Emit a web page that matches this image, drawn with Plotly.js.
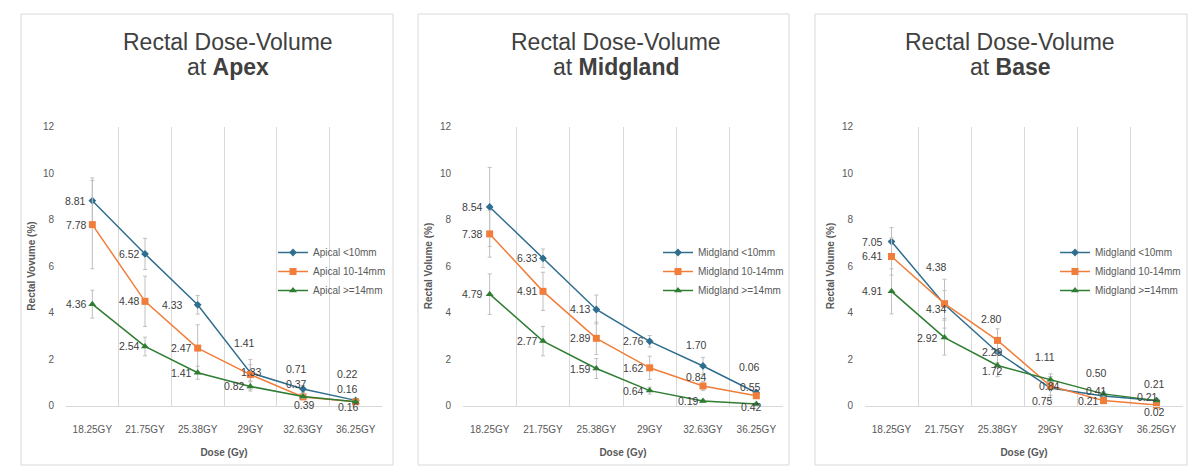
<!DOCTYPE html>
<html>
<head>
<meta charset="utf-8">
<script src="https://cdn.plot.ly/plotly-3.0.1.min.js"></script>
<style>
html,body{margin:0;padding:0;background:#fff;}
#chart{width:1200px;height:476px;}
</style>
</head>
<body>
<div id="chart"></div>
<script>
// ---------- DATA ----------
const categories = ["18.25GY", "21.75GY", "25.38GY", "29GY", "32.63GY", "36.25GY"];

const apexLt10   = [8.81, 6.52, 4.33, 1.41, 0.71, 0.22];
const apex10to14 = [7.78, 4.48, 2.47, 1.33, 0.37, 0.16];
const apexGe14   = [4.36, 2.54, 1.41, 0.82, 0.39, 0.16];
const apexLt10Err   = [0.98, 0.67, 0.40, 0.35, 0.15, 0.05];
const apex10to14Err = [1.90, 1.08, 1.00, 0.65, 0.10, 0.05];
const apexGe14Err   = [0.60, 0.40, 0.28, 0.20, 0.08, 0.05];

const midLt10   = [8.54, 6.33, 4.13, 2.76, 1.70, 0.55];
const mid10to14 = [7.38, 4.91, 2.89, 1.62, 0.84, 0.42];
const midGe14   = [4.79, 2.77, 1.59, 0.64, 0.19, 0.06];
const midLt10Err   = [1.70, 0.40, 0.62, 0.25, 0.37, 0.10];
const mid10to14Err = [1.00, 0.82, 0.70, 0.50, 0.20, 0.10];
const midGe14Err   = [0.87, 0.63, 0.43, 0.15, 0.05, 0.05];

const baseLt10   = [7.05, 4.34, 2.29, 0.75, 0.41, 0.21];
const base10to14 = [6.41, 4.38, 2.80, 0.84, 0.21, 0.02];
const baseGe14   = [4.91, 2.92, 1.72, 1.11, 0.50, 0.21];
const baseLt10Err   = [0.60, 0.60, 0.45, 0.50, 0.10, 0.05];
const base10to14Err = [0.80, 1.05, 0.50, 0.40, 0.10, 0.05];
const baseGe14Err   = [0.97, 0.75, 0.48, 0.25, 0.10, 0.05];

const apexNames = ["Apical <10mm", "Apical 10-14mm", "Apical >=14mm"];
const midNames  = ["Midgland <10mm", "Midgland 10-14mm", "Midgland >=14mm"];
const baseNames = ["Midgland <10mm", "Midgland 10-14mm", "Midgland >=14mm"];

const titleLine1 = "Rectal Dose-Volume";
const titleLine2 = ["at <b>Apex</b>", "at <b>Midgland</b>", "at <b>Base</b>"];
const yTitles = ["Rectal Vovume (%)", "Rectal Volume (%)", "Rectal Volume (%)"];
const xTitle = "Dose (Gy)";

// ---------- STYLE ----------
const W = 1200, H = 476;
const colors = ["#2F6E8E", "#F07E3A", "#2E7D32"];
const symbols = ["diamond", "square", "triangle-up"];
const msizes = [6, 7, 7];
const FONT = "Liberation Sans, Arial, sans-serif";
const plotX = [[66, 382], [463, 783], [865, 1183]];
const boxes = [[21, 393], [418, 789], [815, 1187]];
const boxY = [14, 465];
const plotY = [126.5, 405.5];
const titleCenters = [228, 616, 1010];
const titleLineY = [42, 67];
const legendLeft = [273, 658, 1055];

// label offsets (px) [dx, dy(down)]
const labelOffsets = [
  [ [[-17,0],[-16,0],[-25,0],[-6,-30],[-7,-20],[-8,-26]],
    [[-16,0],[-16,0],[-16,0],[1,-3],[-7,-13],[-8,-13]],
    [[-16,0],[-16,0],[-16,0],[-16,0],[1,9],[-7,5]] ],
  [ [[-17,0],[-16,0],[-16,0],[-16,0],[-7,-21],[-6,-6]],
    [[-17,0],[-16,0],[-16,0],[-16,0],[-7,-9],[-5,11]],
    [[-17,0],[-16,0],[-16,0],[-16,0],[-15,0],[-7,-37]] ],
  [ [[-19,0],[-8,4],[-5,0],[-8,13],[-7,-5],[-9,-4]],
    [[-19,0],[-8,-37],[-6,-21],[-1,0],[-15,0],[-2,7]],
    [[-19,0],[-17,0],[-5,5],[-6,-23],[-7,-21],[-2,-17]] ]
];

const panels = [
  {series: [apexLt10, apex10to14, apexGe14], errs: [apexLt10Err, apex10to14Err, apexGe14Err], names: apexNames},
  {series: [midLt10, mid10to14, midGe14], errs: [midLt10Err, mid10to14Err, midGe14Err], names: midNames},
  {series: [baseLt10, base10to14, baseGe14], errs: [baseLt10Err, base10to14Err, baseGe14Err], names: baseNames}
];

const traces = [];
const annotations = [];
const shapes = [];
const layout = {
  width: W, height: H,
  margin: {l: 0, r: 0, t: 0, b: 0},
  paper_bgcolor: "#ffffff", plot_bgcolor: "rgba(0,0,0,0)",
  font: {family: FONT, color: "#595959", size: 10},
  showlegend: true,
  annotations: annotations,
  shapes: shapes
};

panels.forEach((p, pi) => {
  const sfx = pi === 0 ? "" : String(pi + 1);
  const xa = "x" + sfx, ya = "y" + sfx;
  const legName = pi === 0 ? "legend" : "legend" + (pi + 1);
  p.series.forEach((vals, si) => {
    traces.push({
      type: "scatter", mode: "lines+markers",
      x: categories, y: vals, name: p.names[si],
      xaxis: xa, yaxis: ya, legend: legName,
      line: {color: colors[si], width: 1.5},
      marker: {color: colors[si], symbol: symbols[si], size: msizes[si]},
      error_y: {type: "data", array: p.errs[si], visible: true, color: "#BFBFBF", thickness: 1, width: 2},
      cliponaxis: false
    });
    vals.forEach((v, i) => {
      const off = labelOffsets[pi][si][i];
      annotations.push({
        xref: xa, yref: ya, x: categories[i], y: v,
        text: v.toFixed(2), showarrow: false,
        xshift: off[0], yshift: -off[1],
        font: {family: FONT, size: 10.5, color: "#404040"}
      });
    });
  });
  layout["xaxis" + sfx] = {
    domain: [plotX[pi][0] / W, plotX[pi][1] / W],
    anchor: ya, type: "category", range: [-0.5, 5.5],
    tickson: "boundaries", ticks: "", showgrid: true, gridcolor: "#D9D9D9", gridwidth: 1,
    showline: true, linecolor: "#D9D9D9", linewidth: 1, zeroline: false,
    tickfont: {family: FONT, size: 10, color: "#595959"}, ticklabelstandoff: 14,
    title: {text: "<b>" + xTitle + "</b>", font: {family: FONT, size: 10, color: "#595959"}, standoff: 15},
    fixedrange: true
  };
  layout["yaxis" + sfx] = {
    domain: [(H - plotY[1]) / H, (H - plotY[0]) / H],
    anchor: xa, range: [0, 12], dtick: 2, tick0: 0,
    showgrid: false, zeroline: false, showline: false, ticks: "",
    tickfont: {family: FONT, size: 10, color: "#595959"}, ticklabelstandoff: 11,
    title: {text: "<b>" + yTitles[pi] + "</b>", font: {family: FONT, size: 10, color: "#595959"}, standoff: 5},
    fixedrange: true
  };
  layout[legName] = {
    x: legendLeft[pi] / W, xanchor: "left", xref: "paper",
    y: (H - 238) / H, yanchor: "top", yref: "paper",
    bgcolor: "rgba(255,255,255,0)", borderwidth: 0,
    font: {family: FONT, size: 10, color: "#595959"},
    tracegroupgap: 0, itemclick: false, itemdoubleclick: false
  };
  shapes.push({
    type: "rect", xref: "paper", yref: "paper",
    x0: boxes[pi][0] / W, x1: boxes[pi][1] / W,
    y0: (H - boxY[1]) / H, y1: (H - boxY[0]) / H,
    line: {color: "#D9D9D9", width: 1}, fillcolor: "rgba(0,0,0,0)", layer: "below"
  });
  [titleLine1, titleLine2[pi]].forEach((t, li) => {
    annotations.push({
      xref: "paper", yref: "paper", x: titleCenters[pi] / W, y: (H - titleLineY[li]) / H,
      xanchor: "center", yanchor: "middle", showarrow: false,
      text: t, align: "center",
      font: {family: FONT, size: 23, color: "#404040"}
    });
  });
});

Plotly.newPlot("chart", traces, layout, {staticPlot: true, displayModeBar: false});
</script>
</body>
</html>
